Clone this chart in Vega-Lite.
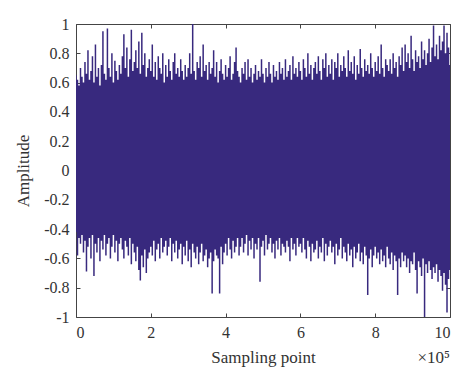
{
"$schema":"https://vega.github.io/schema/vega-lite/v6.json",
"width":374,"height":293,
"autosize":{"type":"none"},
"padding":{"left":76,"top":24,"right":24,"bottom":67},
"background":"white",
"config":{"view":{"stroke":null},"font":"Liberation Serif",
"axis":{"labelFont":"Liberation Serif","titleFont":"Liberation Serif","labelFontSize":16,"titleFontSize":17,"titleFontWeight":"normal","labelColor":"#333","titleColor":"#333","domainColor":"#444","tickColor":"#444","grid":false,"tickSize":-4,"labelPadding":11}},
"data":{"values":[
{"x":0,"hi":0.65,"lo":-0.42},{"x":0.04,"hi":0.62,"lo":-0.58},{"x":0.08,"hi":0.58,"lo":-0.46},{"x":0.12,"hi":0.70,"lo":-0.50},{"x":0.16,"hi":0.64,"lo":-0.44},{"x":0.2,"hi":0.60,"lo":-0.56},{"x":0.24,"hi":0.74,"lo":-0.48},{"x":0.28,"hi":0.66,"lo":-0.69},{"x":0.32,"hi":0.82,"lo":-0.52},{"x":0.36,"hi":0.62,"lo":-0.46},
{"x":0.4,"hi":0.68,"lo":-0.60},{"x":0.44,"hi":0.78,"lo":-0.44},{"x":0.48,"hi":0.60,"lo":-0.72},{"x":0.52,"hi":0.86,"lo":-0.50},{"x":0.56,"hi":0.64,"lo":-0.56},{"x":0.6,"hi":0.70,"lo":-0.46},{"x":0.64,"hi":0.58,"lo":-0.62},{"x":0.68,"hi":0.72,"lo":-0.48},{"x":0.72,"hi":0.95,"lo":-0.54},{"x":0.76,"hi":0.66,"lo":-0.44},
{"x":0.8,"hi":0.62,"lo":-0.58},{"x":0.84,"hi":0.97,"lo":-0.50},{"x":0.88,"hi":0.70,"lo":-0.46},{"x":0.92,"hi":0.64,"lo":-0.60},{"x":0.96,"hi":0.80,"lo":-0.52},{"x":1.0,"hi":0.60,"lo":-0.44},{"x":1.04,"hi":0.75,"lo":-0.56},{"x":1.08,"hi":0.68,"lo":-0.48},{"x":1.12,"hi":0.62,"lo":-0.62},{"x":1.16,"hi":0.72,"lo":-0.50},
{"x":1.2,"hi":0.66,"lo":-0.46},{"x":1.24,"hi":0.78,"lo":-0.54},{"x":1.28,"hi":0.93,"lo":-0.60},{"x":1.32,"hi":0.70,"lo":-0.48},{"x":1.36,"hi":0.84,"lo":-0.52},{"x":1.4,"hi":0.64,"lo":-0.58},{"x":1.44,"hi":0.76,"lo":-0.46},{"x":1.48,"hi":0.96,"lo":-0.64},{"x":1.52,"hi":0.68,"lo":-0.50},{"x":1.56,"hi":0.74,"lo":-0.56},
{"x":1.6,"hi":0.82,"lo":-0.62},{"x":1.64,"hi":0.70,"lo":-0.52},{"x":1.68,"hi":0.88,"lo":-0.68},{"x":1.72,"hi":0.66,"lo":-0.75},{"x":1.76,"hi":0.94,"lo":-0.58},{"x":1.8,"hi":0.72,"lo":-0.66},{"x":1.84,"hi":0.80,"lo":-0.54},{"x":1.88,"hi":0.64,"lo":-0.70},{"x":1.92,"hi":0.70,"lo":-0.60},{"x":1.96,"hi":0.76,"lo":-0.56},
{"x":2.0,"hi":0.68,"lo":-0.52},{"x":2.04,"hi":0.86,"lo":-0.58},{"x":2.08,"hi":0.64,"lo":-0.48},{"x":2.12,"hi":0.74,"lo":-0.62},{"x":2.16,"hi":0.62,"lo":-0.54},{"x":2.2,"hi":0.78,"lo":-0.50},{"x":2.24,"hi":0.70,"lo":-0.60},{"x":2.28,"hi":0.66,"lo":-0.46},{"x":2.32,"hi":0.80,"lo":-0.56},{"x":2.36,"hi":0.60,"lo":-0.52},
{"x":2.4,"hi":0.72,"lo":-0.48},{"x":2.44,"hi":0.64,"lo":-0.58},{"x":2.48,"hi":0.76,"lo":-0.52},{"x":2.52,"hi":0.68,"lo":-0.46},{"x":2.56,"hi":0.62,"lo":-0.62},{"x":2.6,"hi":0.74,"lo":-0.50},{"x":2.64,"hi":0.80,"lo":-0.56},{"x":2.68,"hi":0.66,"lo":-0.48},{"x":2.72,"hi":0.70,"lo":-0.60},{"x":2.76,"hi":0.64,"lo":-0.54},
{"x":2.8,"hi":0.76,"lo":-0.50},{"x":2.84,"hi":0.68,"lo":-0.64},{"x":2.88,"hi":0.62,"lo":-0.52},{"x":2.92,"hi":0.72,"lo":-0.58},{"x":2.96,"hi":0.64,"lo":-0.48},{"x":3.0,"hi":0.70,"lo":-0.62},{"x":3.04,"hi":0.80,"lo":-0.54},{"x":3.08,"hi":0.66,"lo":-0.66},{"x":3.12,"hi":1.00,"lo":-0.50},{"x":3.16,"hi":0.68,"lo":-0.56},
{"x":3.2,"hi":0.62,"lo":-0.60},{"x":3.24,"hi":0.74,"lo":-0.52},{"x":3.28,"hi":0.70,"lo":-0.64},{"x":3.32,"hi":0.78,"lo":-0.56},{"x":3.36,"hi":0.64,"lo":-0.50},{"x":3.4,"hi":0.86,"lo":-0.62},{"x":3.44,"hi":0.68,"lo":-0.58},{"x":3.48,"hi":0.72,"lo":-0.54},{"x":3.52,"hi":0.62,"lo":-0.66},{"x":3.56,"hi":0.74,"lo":-0.60},
{"x":3.6,"hi":0.66,"lo":-0.56},{"x":3.64,"hi":0.70,"lo":-0.84},{"x":3.68,"hi":0.82,"lo":-0.62},{"x":3.72,"hi":0.64,"lo":-0.54},{"x":3.76,"hi":0.74,"lo":-0.58},{"x":3.8,"hi":0.60,"lo":-0.60},{"x":3.84,"hi":0.68,"lo":-0.84},{"x":3.88,"hi":0.76,"lo":-0.52},{"x":3.92,"hi":0.66,"lo":-0.64},{"x":3.96,"hi":0.62,"lo":-0.56},
{"x":4.0,"hi":0.72,"lo":-0.50},{"x":4.04,"hi":0.64,"lo":-0.58},{"x":4.08,"hi":0.70,"lo":-0.46},{"x":4.12,"hi":0.78,"lo":-0.54},{"x":4.16,"hi":0.62,"lo":-0.60},{"x":4.2,"hi":0.66,"lo":-0.48},{"x":4.24,"hi":0.74,"lo":-0.56},{"x":4.28,"hi":0.84,"lo":-0.52},{"x":4.32,"hi":0.68,"lo":-0.46},{"x":4.36,"hi":0.64,"lo":-0.58},
{"x":4.4,"hi":0.60,"lo":-0.52},{"x":4.44,"hi":0.70,"lo":-0.46},{"x":4.48,"hi":0.66,"lo":-0.56},{"x":4.52,"hi":0.74,"lo":-0.50},{"x":4.56,"hi":0.62,"lo":-0.44},{"x":4.6,"hi":0.76,"lo":-0.58},{"x":4.64,"hi":0.64,"lo":-0.48},{"x":4.68,"hi":0.70,"lo":-0.54},{"x":4.72,"hi":0.60,"lo":-0.46},{"x":4.76,"hi":0.66,"lo":-0.60},
{"x":4.8,"hi":0.72,"lo":-0.50},{"x":4.84,"hi":0.62,"lo":-0.54},{"x":4.88,"hi":0.68,"lo":-0.46},{"x":4.92,"hi":0.64,"lo":-0.76},{"x":4.96,"hi":0.76,"lo":-0.52},{"x":5.0,"hi":0.66,"lo":-0.48},{"x":5.04,"hi":0.60,"lo":-0.58},{"x":5.08,"hi":0.70,"lo":-0.44},{"x":5.12,"hi":0.64,"lo":-0.54},{"x":5.16,"hi":0.74,"lo":-0.50},
{"x":5.2,"hi":0.66,"lo":-0.46},{"x":5.24,"hi":0.60,"lo":-0.56},{"x":5.28,"hi":0.72,"lo":-0.50},{"x":5.32,"hi":0.64,"lo":-0.60},{"x":5.36,"hi":0.68,"lo":-0.48},{"x":5.4,"hi":0.62,"lo":-0.54},{"x":5.44,"hi":0.74,"lo":-0.46},{"x":5.48,"hi":0.66,"lo":-0.58},{"x":5.52,"hi":0.70,"lo":-0.50},{"x":5.56,"hi":0.62,"lo":-0.52},
{"x":5.6,"hi":0.76,"lo":-0.56},{"x":5.64,"hi":0.64,"lo":-0.48},{"x":5.68,"hi":0.68,"lo":-0.52},{"x":5.72,"hi":0.72,"lo":-0.62},{"x":5.76,"hi":0.62,"lo":-0.46},{"x":5.8,"hi":0.78,"lo":-0.54},{"x":5.84,"hi":0.66,"lo":-0.50},{"x":5.88,"hi":0.70,"lo":-0.58},{"x":5.92,"hi":0.64,"lo":-0.46},{"x":5.96,"hi":0.74,"lo":-0.52},
{"x":6.0,"hi":0.68,"lo":-0.50},{"x":6.04,"hi":0.62,"lo":-0.56},{"x":6.08,"hi":0.76,"lo":-0.46},{"x":6.12,"hi":0.70,"lo":-0.54},{"x":6.16,"hi":0.64,"lo":-0.60},{"x":6.2,"hi":0.80,"lo":-0.48},{"x":6.24,"hi":0.66,"lo":-0.52},{"x":6.28,"hi":0.72,"lo":-0.62},{"x":6.32,"hi":0.62,"lo":-0.50},{"x":6.36,"hi":0.70,"lo":-0.56},
{"x":6.4,"hi":0.74,"lo":-0.54},{"x":6.44,"hi":0.66,"lo":-0.48},{"x":6.48,"hi":0.78,"lo":-0.60},{"x":6.52,"hi":0.68,"lo":-0.52},{"x":6.56,"hi":0.62,"lo":-0.56},{"x":6.6,"hi":0.76,"lo":-0.46},{"x":6.64,"hi":0.70,"lo":-0.62},{"x":6.68,"hi":0.80,"lo":-0.50},{"x":6.72,"hi":0.64,"lo":-0.58},{"x":6.76,"hi":0.72,"lo":-0.52},
{"x":6.8,"hi":0.66,"lo":-0.48},{"x":6.84,"hi":0.76,"lo":-0.56},{"x":6.88,"hi":0.62,"lo":-0.52},{"x":6.92,"hi":0.74,"lo":-0.64},{"x":6.96,"hi":0.70,"lo":-0.50},{"x":7.0,"hi":0.80,"lo":-0.58},{"x":7.04,"hi":0.64,"lo":-0.54},{"x":7.08,"hi":0.72,"lo":-0.46},{"x":7.12,"hi":0.68,"lo":-0.60},{"x":7.16,"hi":0.78,"lo":-0.52},
{"x":7.2,"hi":0.70,"lo":-0.56},{"x":7.24,"hi":0.64,"lo":-0.62},{"x":7.28,"hi":0.82,"lo":-0.50},{"x":7.32,"hi":0.68,"lo":-0.58},{"x":7.36,"hi":0.74,"lo":-0.54},{"x":7.4,"hi":0.66,"lo":-0.66},{"x":7.44,"hi":0.78,"lo":-0.52},{"x":7.48,"hi":0.62,"lo":-0.60},{"x":7.52,"hi":0.72,"lo":-0.56},{"x":7.56,"hi":0.66,"lo":-0.50},
{"x":7.6,"hi":0.83,"lo":-0.62},{"x":7.64,"hi":0.70,"lo":-0.56},{"x":7.68,"hi":0.64,"lo":-0.64},{"x":7.72,"hi":0.76,"lo":-0.52},{"x":7.76,"hi":0.68,"lo":-0.58},{"x":7.8,"hi":0.72,"lo":-0.85},{"x":7.84,"hi":0.66,"lo":-0.60},{"x":7.88,"hi":0.80,"lo":-0.54},{"x":7.92,"hi":0.70,"lo":-0.66},{"x":7.96,"hi":0.64,"lo":-0.58},
{"x":8.0,"hi":0.74,"lo":-0.52},{"x":8.04,"hi":0.68,"lo":-0.60},{"x":8.08,"hi":0.78,"lo":-0.56},{"x":8.12,"hi":0.66,"lo":-0.64},{"x":8.16,"hi":0.86,"lo":-0.54},{"x":8.2,"hi":0.70,"lo":-0.62},{"x":8.24,"hi":0.64,"lo":-0.58},{"x":8.28,"hi":0.76,"lo":-0.66},{"x":8.32,"hi":0.72,"lo":-0.52},{"x":8.36,"hi":0.68,"lo":-0.60},
{"x":8.4,"hi":0.76,"lo":-0.64},{"x":8.44,"hi":0.66,"lo":-0.56},{"x":8.48,"hi":0.80,"lo":-0.68},{"x":8.52,"hi":0.70,"lo":-0.58},{"x":8.56,"hi":0.74,"lo":-0.62},{"x":8.6,"hi":0.64,"lo":-0.85},{"x":8.64,"hi":0.78,"lo":-0.60},{"x":8.68,"hi":0.72,"lo":-0.66},{"x":8.72,"hi":0.84,"lo":-0.56},{"x":8.76,"hi":0.68,"lo":-0.62},
{"x":8.8,"hi":0.86,"lo":-0.58},{"x":8.84,"hi":0.74,"lo":-0.66},{"x":8.88,"hi":0.80,"lo":-0.60},{"x":8.92,"hi":0.70,"lo":-0.70},{"x":8.96,"hi":0.92,"lo":-0.62},{"x":9.0,"hi":0.76,"lo":-0.64},{"x":9.04,"hi":0.68,"lo":-0.56},{"x":9.08,"hi":0.82,"lo":-0.68},{"x":9.12,"hi":0.74,"lo":-0.84},{"x":9.16,"hi":0.78,"lo":-0.62},
{"x":9.2,"hi":0.70,"lo":-0.66},{"x":9.24,"hi":0.88,"lo":-0.72},{"x":9.28,"hi":0.76,"lo":-0.60},{"x":9.32,"hi":0.82,"lo":-1.00},{"x":9.36,"hi":0.72,"lo":-0.64},{"x":9.4,"hi":0.80,"lo":-0.70},{"x":9.44,"hi":0.90,"lo":-0.62},{"x":9.48,"hi":0.74,"lo":-0.68},{"x":9.52,"hi":0.84,"lo":-0.74},{"x":9.56,"hi":0.99,"lo":-0.66},
{"x":9.6,"hi":0.78,"lo":-0.70},{"x":9.64,"hi":0.86,"lo":-0.64},{"x":9.68,"hi":0.76,"lo":-0.76},{"x":9.72,"hi":0.92,"lo":-0.68},{"x":9.76,"hi":0.82,"lo":-0.72},{"x":9.8,"hi":0.88,"lo":-0.82},{"x":9.84,"hi":0.99,"lo":-0.70},{"x":9.88,"hi":0.80,"lo":-0.78},{"x":9.92,"hi":0.94,"lo":-0.97},{"x":9.96,"hi":0.84,"lo":-0.74},
{"x":10.0,"hi":0.72,"lo":-0.68}
]},
"layer":[
{"mark":{"type":"area","color":"#38297e","interpolate":"step","clip":true,"opacity":1},
"encoding":{
"x":{"field":"x","type":"quantitative","scale":{"domain":[0,10],"nice":false,"zero":false},"axis":{"orient":"bottom","values":[0,2,4,6,8,10],"title":"Sampling point","titlePadding":9}},
"y":{"field":"lo","type":"quantitative","scale":{"domain":[-1,1],"nice":false,"zero":false},"axis":{"orient":"left","values":[-1,-0.8,-0.6,-0.4,-0.2,0,0.2,0.4,0.6,0.8,1],"labelExpr":"datum.value + ''","title":"Amplitude","titlePadding":11}},
"y2":{"field":"hi"}}},
{"data":{"values":[{}]},
"mark":{"type":"text","text":"×10⁵","align":"right","baseline":"alphabetic","dy":46,"dx":0,"fontSize":17,"font":"Liberation Serif","color":"#333"},
"encoding":{
"x":{"datum":10,"type":"quantitative","axis":{"orient":"top","values":[0,2,4,6,8,10],"labels":false,"title":null}},
"y":{"datum":-1,"type":"quantitative","axis":{"orient":"right","values":[-1,-0.8,-0.6,-0.4,-0.2,0,0.2,0.4,0.6,0.8,1],"labels":false,"title":null}}}}
]
}
